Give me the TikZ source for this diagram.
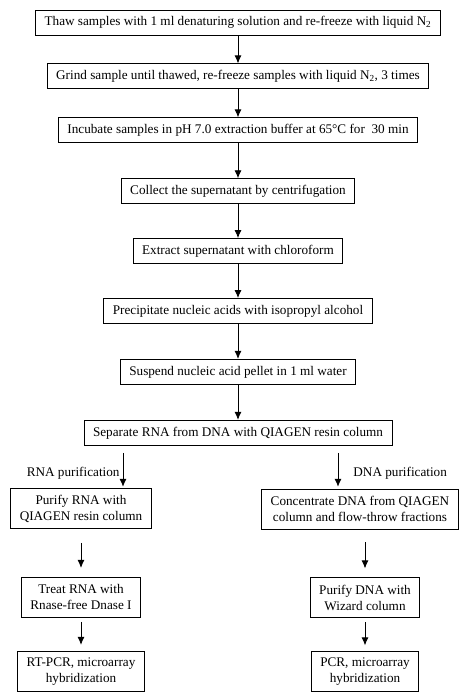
\documentclass[tikz,border=0pt]{standalone}
\usepackage{fontspec}
\setmainfont{Liberation Serif}
\usetikzlibrary{positioning,arrows.meta}

\begin{document}
\begin{tikzpicture}[x=1pt, y=1pt,
        stage/.style={draw, line width=0.9pt, minimum height=25pt, inner xsep=9pt,
                      font=\fontsize{13.2}{16}\selectfont, align=center},
        pair/.style={minimum height=40pt},
        flow/.style={-{Latex[length=8pt,width=7pt]}, line width=0.9pt}]
        \useasboundingbox (0,0) rectangle (474,-697);

        % NODES
        % -----------------

        \node[stage] (thaw) at (238,-22.5) {Thaw samples with 1 ml denaturing solution and re-freeze with liquid N\textsubscript{2}};
        \node[stage, below=28pt of thaw] (grind) {Grind sample until thawed, re-freeze samples with liquid N\textsubscript{2}, 3 times};
        \node[stage, below=28pt of grind] (incubate) {Incubate samples in pH 7.0 extraction buffer at 65°C for\ \ 30 min};
        \node[stage, below=35pt of incubate] (collect) {Collect the supernatant by centrifugation};
        \node[stage, below=34pt of collect] (extract) {Extract supernatant with chloroform};
        \node[stage, below=34pt of extract] (precip) {Precipitate nucleic acids with isopropyl alcohol};
        \node[stage, below=35pt of precip] (suspend) {Suspend nucleic acid pellet in 1 ml water};
        \node[stage, below=35pt of suspend] (separate) {Separate RNA from DNA with QIAGEN resin column};

        % RNA branch
        \node[stage, pair] (rna_col) at (81,-508.5) {Purify RNA with\\QIAGEN resin column};
        \node[stage, pair, below=48pt of rna_col] (dnase) {Treat RNA with\\Rnase-free Dnase I};
        \node[stage, pair, below=33pt of dnase] (rt_pcr) {RT-PCR, microarray\\hybridization};

        % DNA branch
        \node[stage, pair] (dna_conc) at (360,-509) {Concentrate DNA from QIAGEN\\column and flow-throw fractions};
        \node[stage, pair, below=48pt of dna_conc, xshift=5pt] (wizard) {Purify DNA with\\Wizard column};
        \node[stage, pair, below=33pt of wizard] (pcr) {PCR, microarray\\hybridization};

        % split points
        \path (separate.south) ++(-115,-7) coordinate (rna_from) ++(0,-34) coordinate (rna_to);
        \path (separate.south) ++(100,-7) coordinate (dna_from) ++(0,-34) coordinate (dna_to);

        % EDGES
        % -----------------
        \draw[flow] (thaw) -- (grind);
        \draw[flow] (grind) -- (incubate);
        \draw[flow] (incubate) -- (collect);
        \draw[flow] (collect) -- (extract);
        \draw[flow] (extract) -- (precip);
        \draw[flow] (precip) -- (suspend);
        \draw[flow] (suspend) -- (separate);

        \draw[flow] (rna_from) -- node[pos=0.6, left, inner sep=3pt, font=\fontsize{13.2}{16}\selectfont] {RNA purification} (rna_to);
        \draw[flow] (dna_from) -- node[pos=0.6, right, xshift=12pt, inner sep=3pt, font=\fontsize{13.2}{16}\selectfont] {DNA purification} (dna_to);

        \draw[flow, shorten <=14pt, shorten >=9pt] (rna_col) -- (dnase);
        \draw[flow, shorten <=4pt, shorten >=6pt] (dnase) -- (rt_pcr);
        \draw[flow, shorten <=13pt, shorten >=9pt] (dna_conc.south -| wizard.north) -- (wizard.north);
        \draw[flow, shorten <=4pt, shorten >=6pt] (wizard) -- (pcr);

    \end{tikzpicture}
\end{document}
